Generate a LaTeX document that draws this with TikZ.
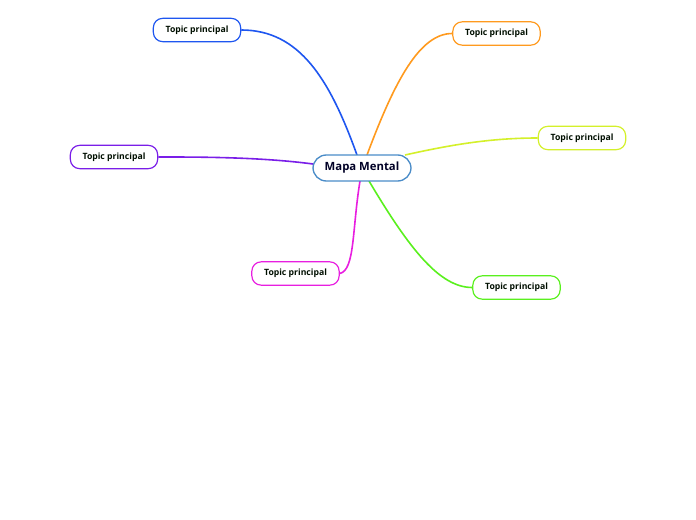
\documentclass[tikz,border=0pt]{standalone}
\usepackage{fontspec}
\setmainfont{Open Sans}
\begin{document}
\begin{tikzpicture}[x=0.75pt,y=-0.75pt,
  topic/.style={draw, line width=0.9pt, rounded corners=7pt, fill=white, minimum width=65.5pt, minimum height=17.5pt, inner sep=0pt, font=\fontsize{6.5}{8}\selectfont\bfseries, text=black!80!green!30!black},
  link/.style={line width=1.2pt}]
\useasboundingbox (0,0) rectangle (696,520);
\fill[white] (0,0) rectangle (696,520);
\definecolor{cblue}{HTML}{1E56F0}
\definecolor{corange}{HTML}{FF9A1E}
\definecolor{cyel}{HTML}{D4F02A}
\definecolor{cpurp}{HTML}{7A1EE8}
\definecolor{cmag}{HTML}{E81EE0}
\definecolor{cgreen}{HTML}{5AF01E}
\definecolor{cedge}{HTML}{4A8CC8}
\coordinate (a1) at (357,155);
\coordinate (a2) at (367,155);
\coordinate (a3) at (405,155);
\coordinate (a4) at (313,164);
\coordinate (a5) at (360,181);
\coordinate (a6) at (369,181);
\node[topic, draw=cblue] (t1) at (197,30) {Topic principal};
\node[topic, draw=corange] (t2) at (496.5,33.5) {Topic principal};
\node[topic, draw=cyel] (t3) at (582,138) {Topic principal};
\node[topic, draw=cpurp] (t4) at (114,157) {Topic principal};
\node[topic, draw=cmag] (t5) at (295.5,273.5) {Topic principal};
\node[topic, draw=cgreen] (t6) at (516.5,287.5) {Topic principal};
\draw[link, cblue] (a1) .. controls (330,80) and (300,30) .. (t1.east);
\draw[link, corange] (a2) .. controls (395,80) and (420,33.5) .. (t2.west);
\draw[link, cyel] (a3) .. controls (450,145) and (490,138) .. (t3.west);
\draw[link, cpurp] (a4) .. controls (260,157) and (200,157) .. (t4.east);
\draw[link, cmag] (a5) .. controls (352,230) and (355,270) .. (t5.east);
\draw[link, cgreen] (a6) .. controls (410,250) and (440,287.5) .. (t6.west);
\node[draw=cedge, line width=1pt, rounded corners=10pt, fill=white, minimum width=73.5pt, minimum height=19.5pt, inner sep=0pt, font=\fontsize{8.5}{10}\selectfont\bfseries, text=black!85!blue] (c) at (362,168) {Mapa Mental};
\end{tikzpicture}
\end{document}
